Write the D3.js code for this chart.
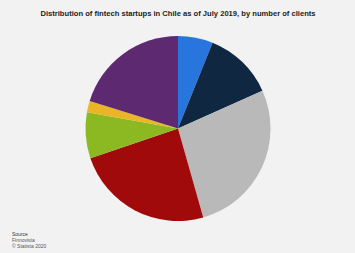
<!DOCTYPE html>
<html>
<head>
<meta charset="utf-8">
<script src="https://cdn.jsdelivr.net/npm/d3@7"></script>
<style>
  body { margin: 0; background: #f2f2f2; }
  svg { display: block; font-family: "Liberation Sans", Arial, sans-serif; }
</style>
</head>
<body>
<div id="chart"></div>
<script>
// data (clockwise from 12 o'clock)
var categories = ["No clients", "1-10", "11-50", "51-100", "101-500", "501-1,000", "More than 1,000"];
var shares = [6.1, 12.2, 27.3, 24.2, 8.0, 2.0, 20.2];
var colors = ["#2876dd", "#0f2740", "#b9b9b9", "#a10a0a", "#8cb822", "#eab526", "#5d2a72"];

var W = 355, H = 253;
var svg = d3.select("#chart").append("svg").attr("width", W).attr("height", H);
svg.append("rect").attr("width", W).attr("height", H).attr("fill", "#f2f2f2");

svg.append("text")
	.attr("x", 178).attr("y", 16)
	.attr("text-anchor", "middle")
	.attr("font-size", 7.6).attr("font-weight", "bold").attr("fill", "#222")
	.text("Distribution of fintech startups in Chile as of July 2019, by number of clients");

var data = categories.map(function(c, i){ return {cat: c, value: shares[i], color: colors[i]}; });

var pie = d3.pie().sort(null).value(d => d.value);
var arc = d3.arc().innerRadius(0).outerRadius(92.5);

var g = svg.append("g").attr("transform", "translate(178,128.5)");
g.selectAll("path")
	.data(pie(data))
	.enter().append("path")
	.attr("d", arc)
	.attr("fill", d => d.data.color);

var src = svg.append("g").attr("font-size", 5).attr("fill", "#555");
src.append("text").attr("x", 12).attr("y", 236).attr("fill", "#333").text("Source");
src.append("text").attr("x", 12).attr("y", 242).text("Finnovista");
src.append("text").attr("x", 12).attr("y", 248).text("© Statista 2020");
</script>
</body>
</html>
